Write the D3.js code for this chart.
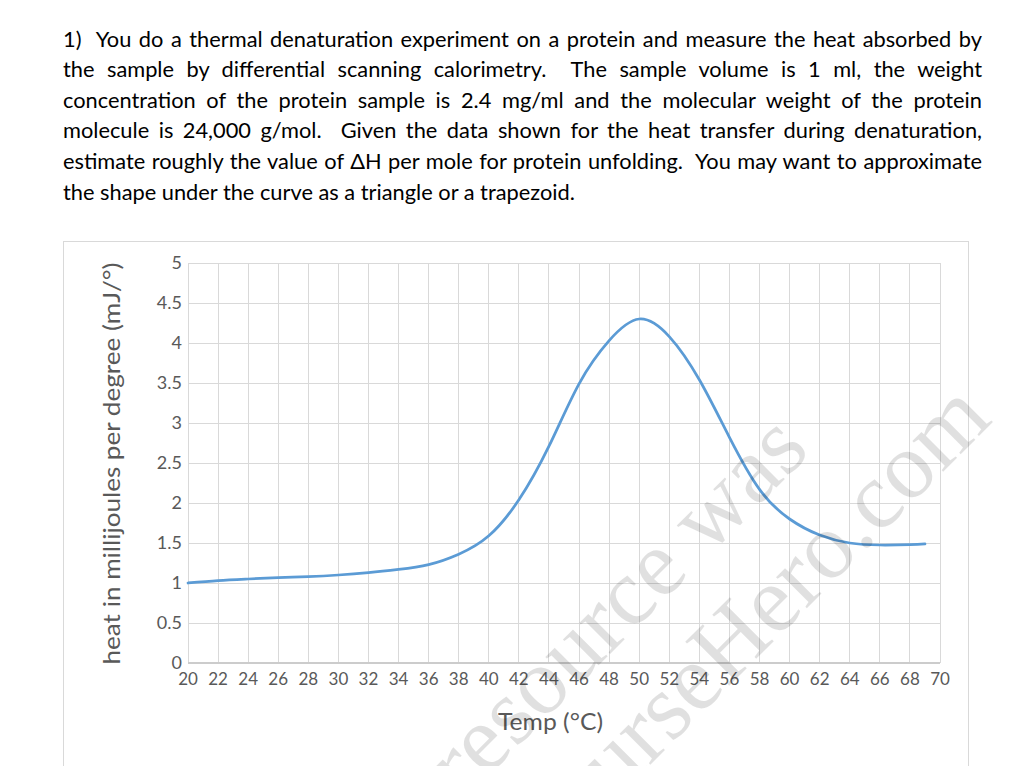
<!DOCTYPE html>
<html>
<head>
<meta charset="utf-8">
<script src="https://cdn.jsdelivr.net/npm/d3@7"></script>
<style>
  html, body { margin: 0; padding: 0; background: #fff; overflow: hidden; }
  svg { display: block; }
</style>
</head>
<body>
<svg id="chart" width="1024" height="766"></svg>
<script>
// ---- data ----
const paragraphLines = [
  "1)  You do a thermal denaturation experiment on a protein and measure the heat absorbed by",
  "the sample by differential scanning calorimetry.  The sample volume is 1 ml, the weight",
  "concentration of the protein sample is 2.4 mg/ml and the molecular weight of the protein",
  "molecule is 24,000 g/mol.  Given the data shown for the heat transfer during denaturation,",
  "estimate roughly the value of \u0394H per mole for protein unfolding.  You may want to approximate",
  "the shape under the curve as a triangle or a trapezoid."
];
const temps = [20,22,24,26,28,30,32,34,36,38,40,42,44,46,48,50,52,54,56,58,60,62,64,66,68,69];
const heat  = [1.00,1.03,1.05,1.067,1.08,1.10,1.13,1.17,1.23,1.36,1.59,2.04,2.71,3.49,4.03,4.30,4.08,3.54,2.82,2.17,1.80,1.60,1.50,1.475,1.48,1.49];
const xTicks = [20,22,24,26,28,30,32,34,36,38,40,42,44,46,48,50,52,54,56,58,60,62,64,66,68,70];
const yTicks = [0,0.5,1,1.5,2,2.5,3,3.5,4,4.5,5];
const xTitle = "Temp (\u00B0C)";
const yTitle = "heat in millijoules per degree (mJ/\u00B0)";
const watermark = ["This study resource was", "shared via CourseHero.com"];

// ---- layout ----
const svg = d3.select("#chart");
const FONT = "Lato, 'Open Sans', sans-serif";
const plot = {left: 188, right: 940, top: 263, bottom: 663};
const x = d3.scaleLinear().domain([20, 70]).range([plot.left, plot.right]);
const y = d3.scaleLinear().domain([0, 5]).range([plot.bottom, plot.top]);

// paragraph
const pLeft = 63, pRight = 982, pTop = 46.5, pStep = 30.6;
const pg = svg.append("g");
paragraphLines.forEach((line, i) => {
  const t = pg.append("text")
    .attr("x", pLeft).attr("y", pTop + i * pStep)
    .attr("font-family", FONT).attr("font-size", 21.8).attr("fill", "#000")
    .style("white-space", "pre")
    .text(line);
  if (i < paragraphLines.length - 1) {
    const natural = t.node().getComputedTextLength();
    const spaces = (line.match(/ /g) || []).length;
    const ws = (pRight - pLeft - natural) / spaces;
    t.attr("word-spacing", ws);
  }
});

// chart border box
svg.append("rect")
  .attr("x", 63.5).attr("y", 241.5).attr("width", 905).attr("height", 600)
  .attr("fill", "none").attr("stroke", "#d9d9d9").attr("stroke-width", 1);

// gridlines
const grid = svg.append("g").attr("stroke", "#d9d9d9").attr("stroke-width", 1).attr("shape-rendering", "crispEdges");
grid.selectAll("line.v").data(xTicks).join("line").attr("class", "v")
  .attr("x1", d => x(d)).attr("x2", d => x(d)).attr("y1", plot.top).attr("y2", plot.bottom);
grid.selectAll("line.h").data(yTicks.filter(d => d > 0)).join("line").attr("class", "h")
  .attr("x1", plot.left).attr("x2", plot.right).attr("y1", d => y(d)).attr("y2", d => y(d));
// x axis line
svg.append("line").attr("x1", plot.left).attr("x2", plot.right).attr("y1", y(0)).attr("y2", y(0))
  .attr("stroke", "#cccccc").attr("stroke-width", 1.3).attr("shape-rendering", "crispEdges");

// tick labels
svg.append("g").selectAll("text").data(yTicks).join("text")
  .attr("x", 182).attr("y", d => y(d)).attr("dy", "0.36em")
  .attr("text-anchor", "end").attr("font-family", FONT).attr("font-size", 18).attr("fill", "#595959")
  .text(d => d);
svg.append("g").selectAll("text").data(xTicks).join("text")
  .attr("x", d => x(d)).attr("y", 685)
  .attr("text-anchor", "middle").attr("font-family", FONT).attr("font-size", 17).attr("fill", "#595959")
  .text(d => d);

// axis titles
svg.append("text").attr("x", 550.5).attr("y", 730).attr("text-anchor", "middle")
  .attr("font-family", FONT).attr("font-size", 23).attr("fill", "#595959")
  .attr("textLength", 105).attr("lengthAdjust", "spacingAndGlyphs")
  .text(xTitle);
svg.append("text").attr("transform", "translate(120,463.5) rotate(-90)").attr("text-anchor", "middle")
  .attr("font-family", FONT).attr("font-size", 24).attr("fill", "#595959")
  .attr("textLength", 402).attr("lengthAdjust", "spacingAndGlyphs")
  .text(yTitle);

// curve
const line = d3.line().x((d, i) => x(temps[i])).y(d => y(d)).curve(d3.curveNatural);
svg.append("path").datum(heat).attr("d", line)
  .attr("fill", "none").attr("stroke", "#5b9bd5").attr("stroke-width", 2.75)
  .attr("stroke-linecap", "round").attr("stroke-linejoin", "round");

// watermark
const wm = svg.append("g").attr("font-family", "'Liberation Serif', 'DejaVu Serif', serif")
  .attr("font-size", 95).attr("fill", "#000").attr("fill-opacity", 0.12).attr("text-anchor", "end");
wm.append("text").attr("transform", "translate(812,452) rotate(-45)").text(watermark[0]);
wm.append("text").attr("transform", "translate(994,421) rotate(-45)").text(watermark[1]);
</script>
</body>
</html>
